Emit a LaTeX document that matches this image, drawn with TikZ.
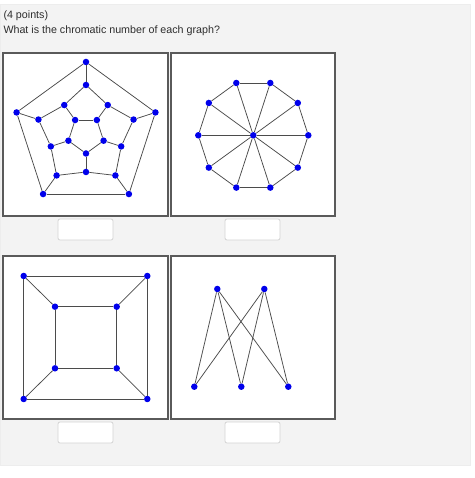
\documentclass[tikz,border=0pt]{standalone}
\usepackage{xcolor}
\usepackage{fontspec}
\setmainfont{Liberation Sans}

\definecolor{panel}{RGB}{243,243,243}
\definecolor{dotblue}{RGB}{0,0,235}
\definecolor{edgegray}{RGB}{75,75,75}
\definecolor{framegray}{RGB}{90,90,90}
\definecolor{fieldgray}{RGB}{212,212,212}
\definecolor{textgray}{RGB}{45,45,45}

\begin{document}
\begin{tikzpicture}[x=1pt,y=1pt,
    vtx/.style={circle,fill=dotblue,inner sep=0pt,minimum size=6.5pt},
    edge/.style={draw=edgegray,line width=0.75pt},
    frame/.style={draw=framegray,fill=white,line width=1.1pt},
    field/.style={draw=fieldgray,fill=white,line width=0.8pt,rounded corners=2pt},
    caption/.style={anchor=base west,inner sep=0pt,text=textgray,font=\fontsize{10.7}{12}\selectfont}]

             \useasboundingbox (0,0) rectangle (474,478);
             \fill[white] (0,0) rectangle (474,478);
             \draw[fill=panel,draw=black!7] (0,13) rectangle (470,474);

             \node[caption] (pts) at (3.3,459) {(4 points)};
             \node[caption] (question) at (3.3,444) {What is the chromatic number of each graph?};

             % frames and answer fields
             \draw[frame] (3,262) rectangle (168,425);
             \draw[frame] (171,262) rectangle (335,425);
             \draw[frame] (3,59) rectangle (168,222);
             \draw[frame] (171,59) rectangle (335,222);
             \draw[field] (58,238) rectangle (113,259);
             \draw[field] (225,238) rectangle (280,259);
             \draw[field] (58,35) rectangle (113,56);
             \draw[field] (225,35) rectangle (280,56);

             % dodecahedron
             \begin{scope}[shift={(86,343)}]
               \foreach \k in {1,...,5} {
                 \node[vtx] (o\k) at (18+72*\k:73) {};
                 \node[vtx] (s\k) at (18+72*\k:50) {};
                 \node[vtx] (m\k) at (54+72*\k:37) {};
                 \node[vtx] (i\k) at (54+72*\k:18.5) {};
               }
               \foreach \k in {1,...,5} {
                 \pgfmathtruncatemacro{\n}{mod(\k,5)+1}
                 \draw[edge] (o\k) -- (o\n);
                 \draw[edge] (o\k) -- (s\k);
                 \draw[edge] (s\k) -- (m\k) -- (s\n);
                 \draw[edge] (m\k) -- (i\k);
                 \draw[edge] (i\k) -- (i\n);
               }
             \end{scope}

             % wheel
             \begin{scope}[shift={(253.3,342.7)}]
               \node[vtx] (hub) at (0,0) {};
               \foreach \k in {0,...,9}
                 \node[vtx] (r\k) at (36*\k:55) {};
               \foreach \k in {0,...,9} {
                 \pgfmathtruncatemacro{\n}{mod(\k+1,10)}
                 \draw[edge] (hub) -- (r\k);
                 \draw[edge] (r\k) -- (r\n);
               }
             \end{scope}

             % cube
             \node[vtx] (ctl) at (23.7,202) {};
             \node[vtx] (ctr) at (147.3,202) {};
             \node[vtx] (cbl) at (23.7,79) {};
             \node[vtx] (cbr) at (147.3,79) {};
             \node[vtx] (itl) at (55,171.3) {};
             \node[vtx] (itr) at (116.7,171.3) {};
             \node[vtx] (ibl) at (55,109.7) {};
             \node[vtx] (ibr) at (116.7,109.7) {};
             \draw[edge] (ctl) -- (ctr) -- (cbr) -- (cbl) -- (ctl);
             \draw[edge] (itl) -- (itr) -- (ibr) -- (ibl) -- (itl);
             \draw[edge] (ctl) -- (itl);
             \draw[edge] (ctr) -- (itr);
             \draw[edge] (cbl) -- (ibl);
             \draw[edge] (cbr) -- (ibr);

             % K23
             \node[vtx] (u1) at (217.3,189) {};
             \node[vtx] (u2) at (264.3,189) {};
             \node[vtx] (v1) at (194.3,91.3) {};
             \node[vtx] (v2) at (241.3,91.3) {};
             \node[vtx] (v3) at (288.3,91.3) {};
             \foreach \u in {u1,u2}
               \foreach \v in {v1,v2,v3}
                 \draw[edge] (\u) -- (\v);
             \end{tikzpicture}
\end{document}
